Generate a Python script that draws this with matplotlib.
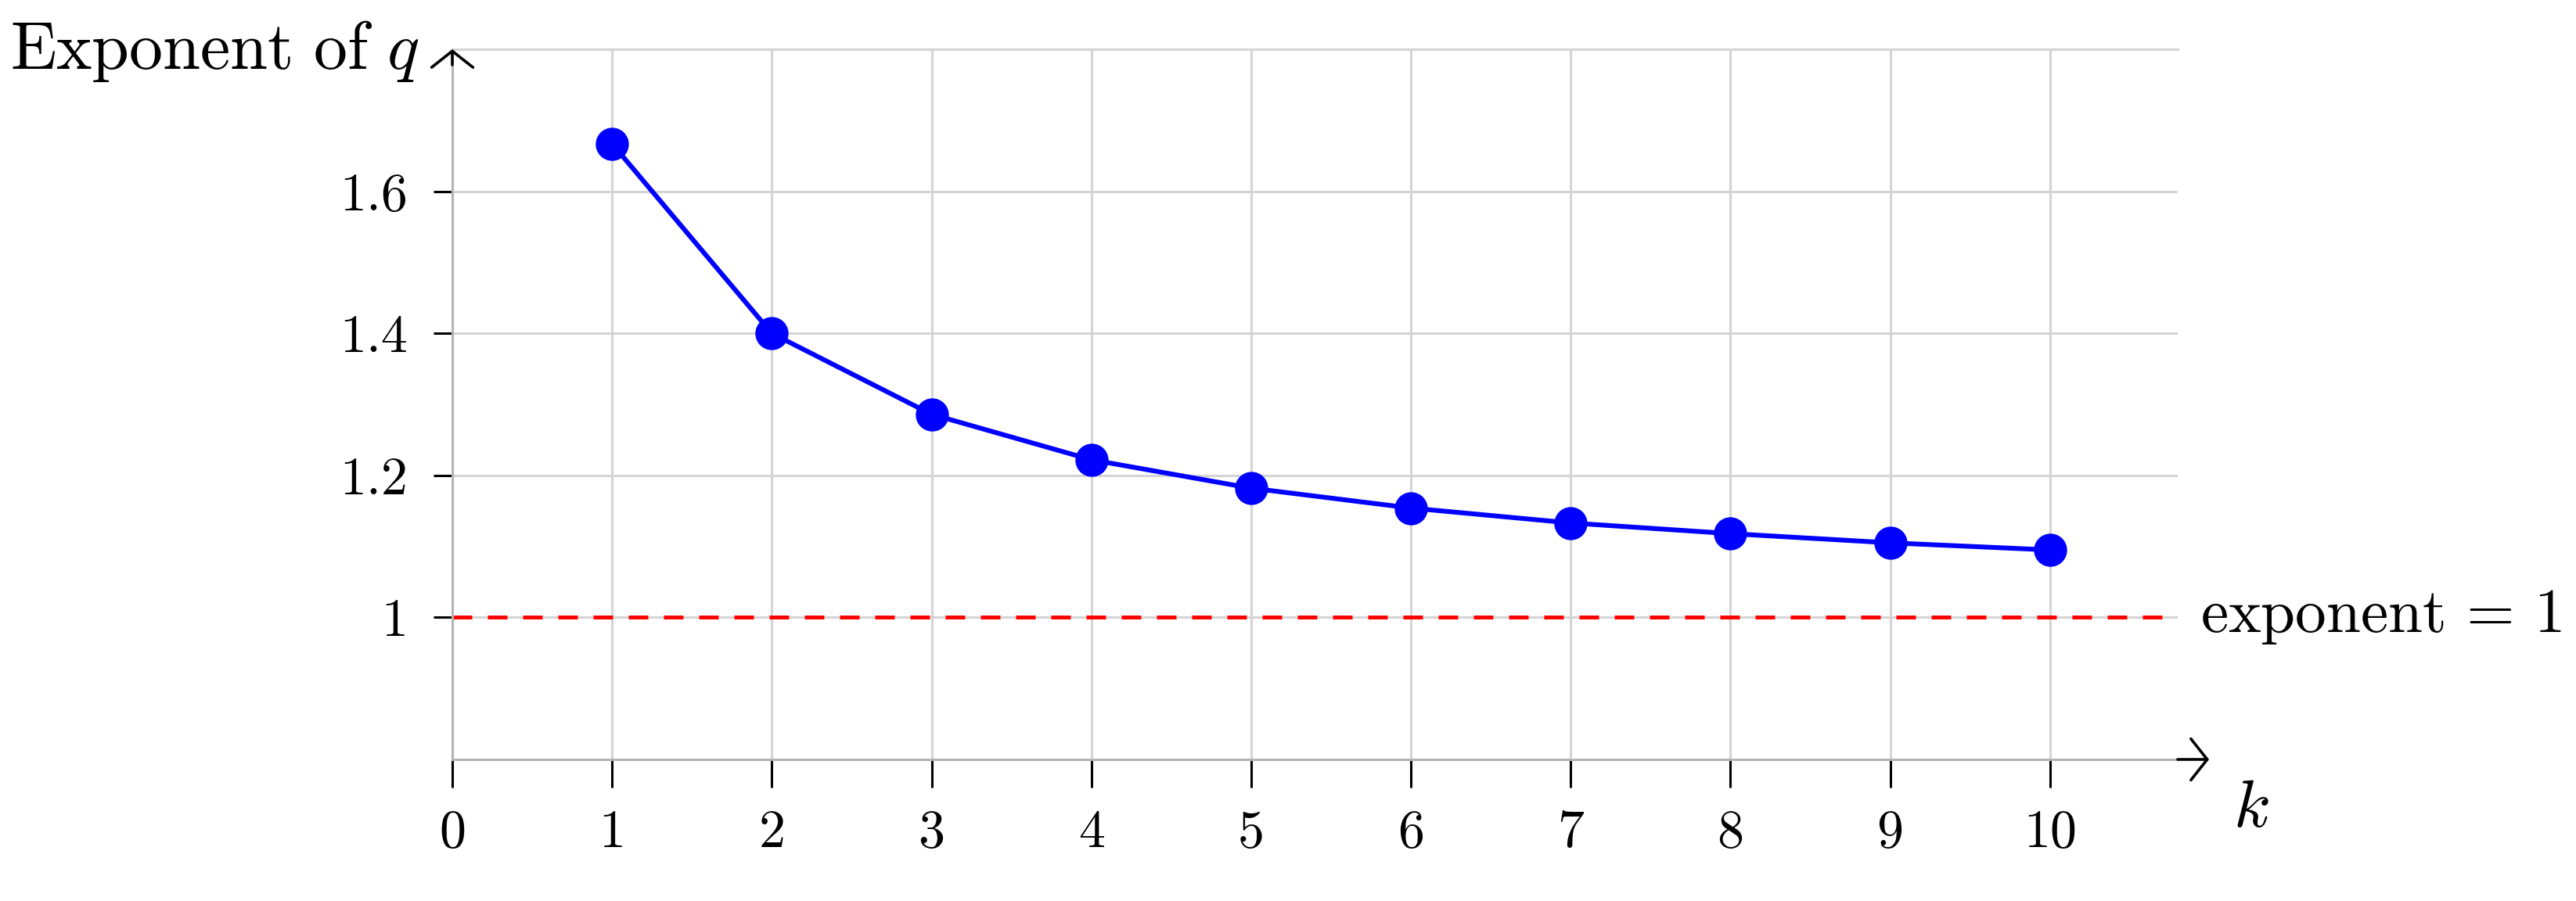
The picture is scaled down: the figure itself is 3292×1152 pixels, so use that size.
import matplotlib
matplotlib.use('Agg')
import matplotlib.pyplot as plt

# data
k = [1, 2, 3, 4, 5, 6, 7, 8, 9, 10]
exponent = [1.667, 1.400, 1.286, 1.222, 1.182, 1.154, 1.133, 1.118, 1.105, 1.095]
ref_level = 1
xticks = [0, 1, 2, 3, 4, 5, 6, 7, 8, 9, 10]
yticks = [1, 1.2, 1.4, 1.6]
ytick_labels = ['1', '1.2', '1.4', '1.6']

plt.rcParams['font.family'] = 'serif'
plt.rcParams['font.serif'] = ['cmr10']
plt.rcParams['mathtext.fontset'] = 'cm'
plt.rcParams['axes.unicode_minus'] = False

fig = plt.figure(figsize=(32.92, 11.52), dpi=100)
ax = fig.add_axes([578/3292, 1 - 971/1152, (2783 - 578)/3292, (971 - 63)/1152])

grid_c = '#d4d4d4'
spine_c = '#b4b4b4'

# grid
for xv in xticks[1:]:
    ax.axvline(xv, color=grid_c, lw=2.2, zorder=0)
for yv in yticks:
    ax.axhline(yv, color=grid_c, lw=2.2, zorder=0)

# reference line
ax.plot([0, 10.8], [ref_level, ref_level], color='#ff0000', lw=3.6,
        dashes=(5.0, 4.0), zorder=2)

# series
ax.plot(k, exponent, color='#0000ff', lw=4.4, marker='o', markersize=29.5,
        zorder=3)

ax.set_xlim(0, 10.8)
ax.set_ylim(0.8, 1.8)

ax.spines['right'].set_visible(False)
for s in ['left', 'bottom', 'top']:
    ax.spines[s].set_color(spine_c)
    ax.spines[s].set_linewidth(2.2)
ax.spines['top'].set_color(grid_c)

ax.set_xticks(xticks)
ax.set_xticklabels([str(v) for v in xticks])
ax.set_yticks(yticks)
ax.set_yticklabels(ytick_labels)
ax.tick_params(axis='x', length=26, width=2.2, pad=20, labelsize=49, color='black')
ax.tick_params(axis='y', length=17, width=2.2, pad=24, labelsize=49, color='black')

# axis arrows
arrow_style = '->,head_length=1.5,head_width=1.9'
ax.annotate('', xy=(1 + 40/2205, 0), xytext=(1.0, 0), xycoords='axes fraction',
            textcoords='axes fraction',
            arrowprops=dict(arrowstyle=arrow_style, mutation_scale=10, lw=2.6,
                            color='black', shrinkA=0, shrinkB=0))
ax.annotate('', xy=(0, 1.0), xytext=(0, 1 - 20/908), xycoords='axes fraction',
            textcoords='axes fraction',
            arrowprops=dict(arrowstyle=arrow_style, mutation_scale=10, lw=2.6,
                            color='black', shrinkA=0, shrinkB=0))

# labels
fig.text(13/3292, 1 - 88/1152, r'$\mathrm{Exponent\ of\ }q$', fontsize=62,
         ha='left', va='baseline')
fig.text(2877/3292, 1 - 1035/1152, '$k$', fontsize=62, ha='center', va='center')
ax.text(1 + (2812 - 2783)/2205, ref_level, r'$\mathrm{exponent}\,=\,1$', fontsize=57,
        ha='left', va='center', transform=ax.get_yaxis_transform())

fig.savefig('out.png', dpi=100)
